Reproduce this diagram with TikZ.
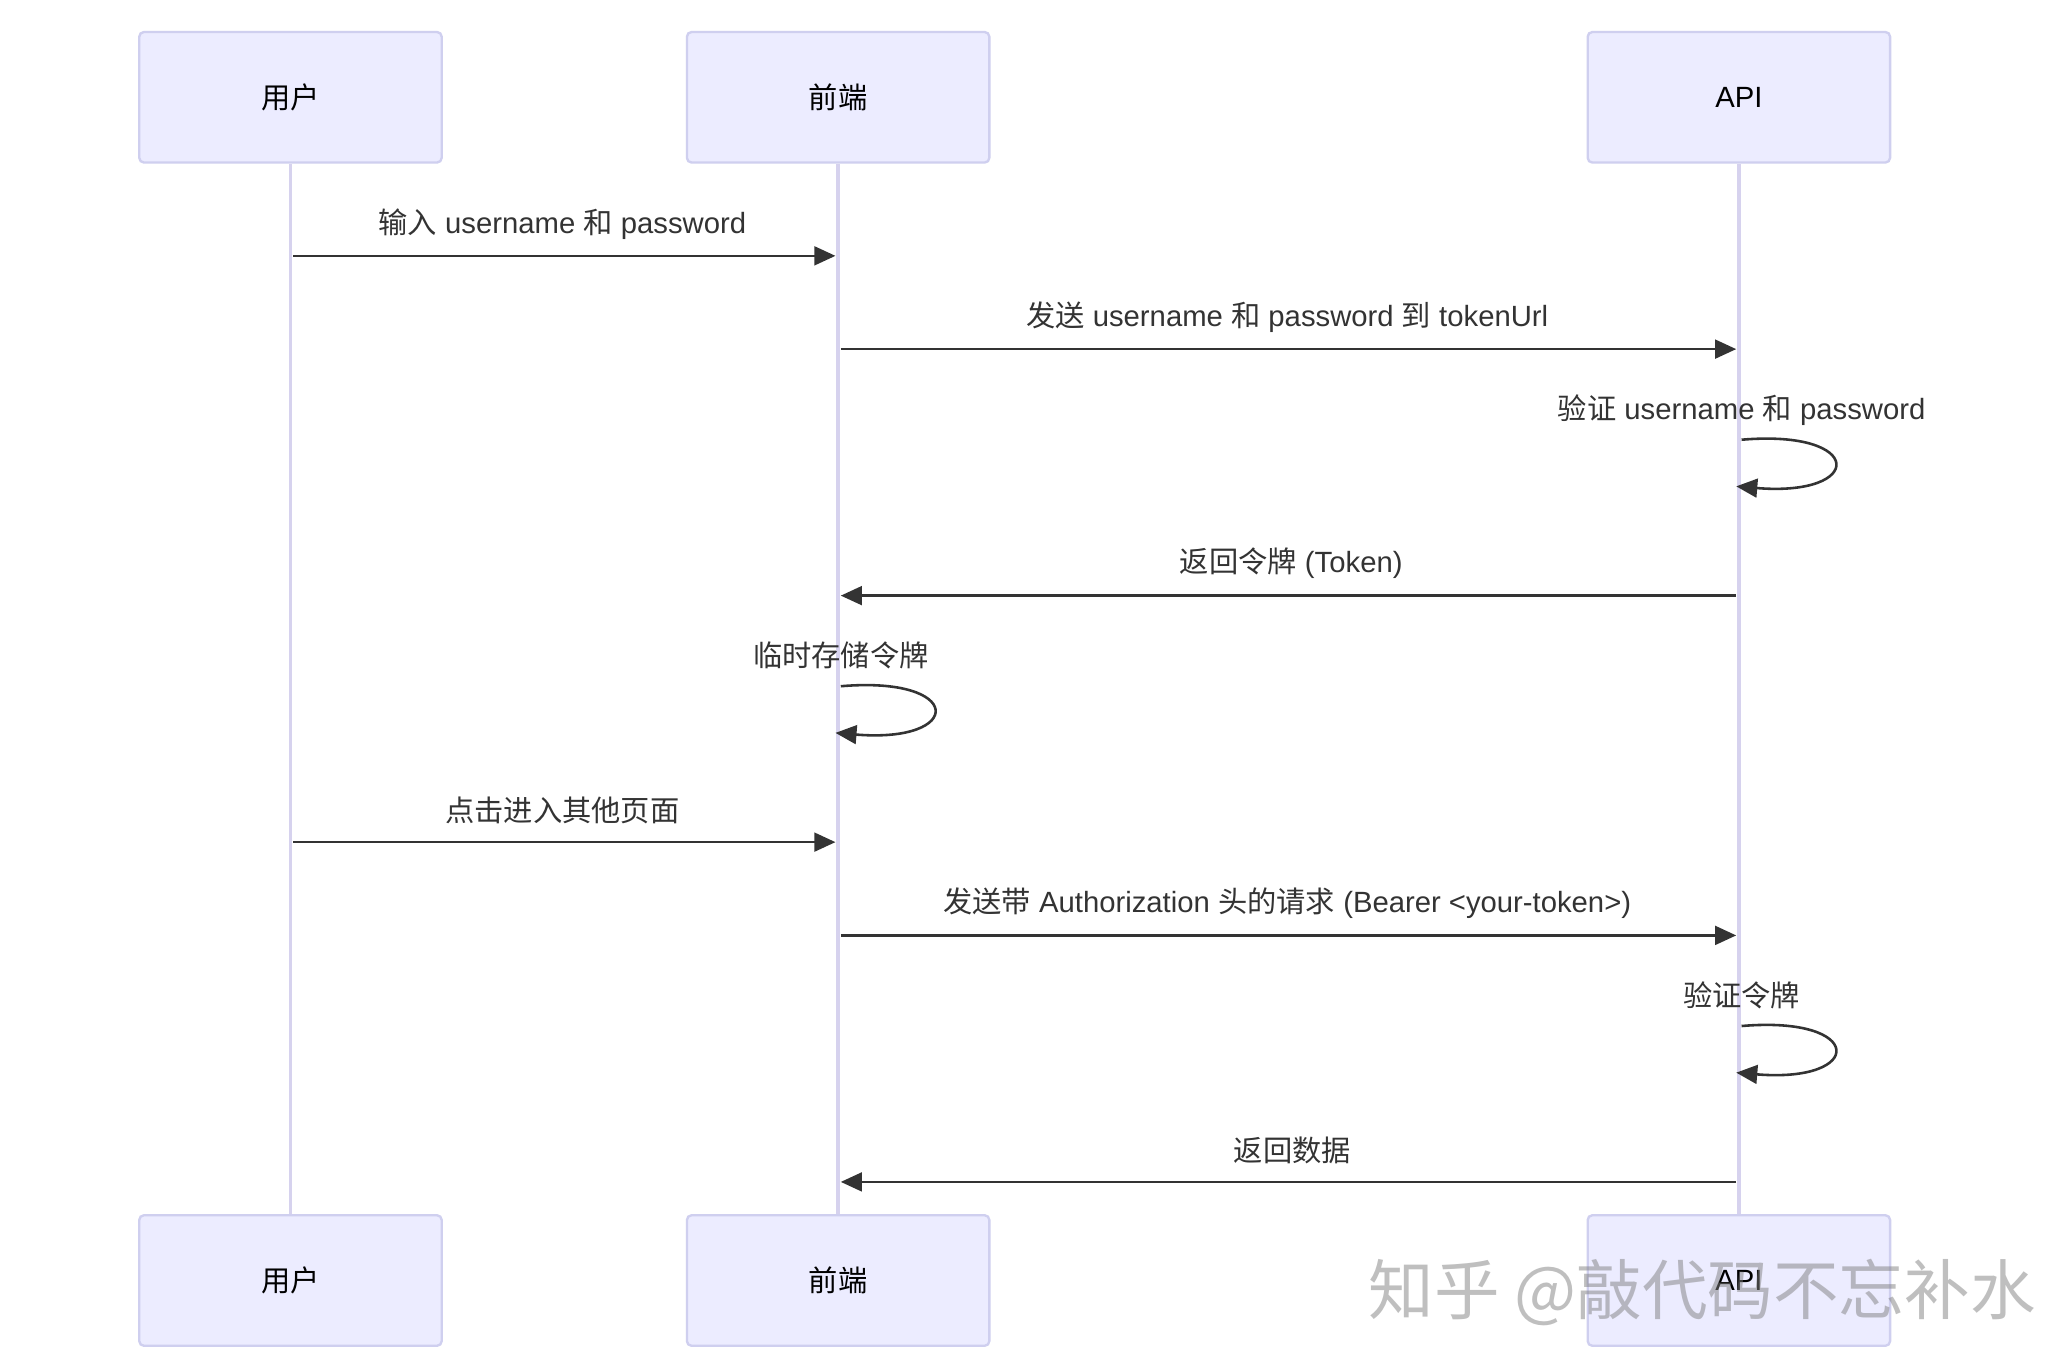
\documentclass[tikz,border=0pt]{standalone}
\usepackage{fontspec}
\setmainfont{Liberation Sans}
\newfontfamily\cjk{Noto Sans CJK SC}
\usetikzlibrary{arrows.meta}
\definecolor{boxfill}{HTML}{ECECFF}
\definecolor{boxline}{HTML}{CFCFEF}
\definecolor{lifel}{HTML}{D6D2EE}
\definecolor{msg}{HTML}{333333}
\newcommand{\zh}[1]{{\cjk #1}}
\tikzset{
 actor/.style={draw=boxline,fill=boxfill,line width=1pt,rounded corners=2pt,minimum width=4.54cm,minimum height=1.96cm,font=\fontsize{12.5}{14}\selectfont,text=black},
 life/.style={draw=lifel,line width=1.6pt},
 msgline/.style={draw=msg,line width=1.1pt,-{Triangle[length=9pt,width=8pt]}},
 lbl/.style={font=\fontsize{12.5}{14}\selectfont,text=msg,inner sep=0pt},
}
\begin{document}
\begin{tikzpicture}[x=0.02cm,y=-0.02cm]
\useasboundingbox (0,0) rectangle (1552,1022);
\fill[white] (0,0) rectangle (1552,1022);
\draw[life] (218,123) -- (218,912);
\draw[life] (629,123) -- (629,912);
\draw[life] (1305,123) -- (1305,912);
\node[actor] (u1) at (218,73) {\zh{用户}};
\node[actor] (f1) at (629,73) {\zh{前端}};
\node[actor] (a1) at (1305,73) {API};
\node[actor] (u2) at (218,961) {\zh{用户}};
\node[actor] (f2) at (629,961) {\zh{前端}};
\node[actor] (a2) at (1305,961) {API};
\coordinate (u192) at (220,192); \coordinate (f192) at (627,192);
\coordinate (f262) at (631,262); \coordinate (a262) at (1303,262);
\coordinate (a447) at (1303,447); \coordinate (f447) at (631,447);
\coordinate (u632) at (220,632); \coordinate (f632) at (627,632);
\coordinate (f702) at (631,702); \coordinate (a702) at (1303,702);
\coordinate (a887) at (1303,887); \coordinate (f887) at (631,887);
\coordinate (a330) at (1307,330); \coordinate (a365) at (1303,365);
\coordinate (f515) at (631,515); \coordinate (f550) at (627,550);
\coordinate (a770) at (1307,770); \coordinate (a805) at (1303,805);
\draw[msgline] (u192) -- (f192);
\node[lbl] (l1) at (422,168) {\zh{输入} username \zh{和} password};
\draw[msgline] (f262) -- (a262);
\node[lbl] (l2) at (966,238) {\zh{发送} username \zh{和} password \zh{到} tokenUrl};
\node[lbl] (l3) at (1307,308) {\zh{验证} username \zh{和} password};
\draw[msgline] (a330) .. controls (1400,322) and (1400,373) .. (a365);
\draw[msgline] (a447) -- (f447);
\node[lbl] (l4) at (969,423) {\zh{返回令牌} (Token)};
\node[lbl] (l5) at (631,492) {\zh{临时存储令牌}};
\draw[msgline] (f515) .. controls (724,507) and (724,558) .. (f550);
\draw[msgline] (u632) -- (f632);
\node[lbl] (l6) at (422,608) {\zh{点击进入其他页面}};
\draw[msgline] (f702) -- (a702);
\node[lbl] (l7) at (966,678) {\zh{发送带} Authorization \zh{头的请求} (Bearer <your-token>)};
\node[lbl] (l8) at (1307,747) {\zh{验证令牌}};
\draw[msgline] (a770) .. controls (1400,762) and (1400,813) .. (a805);
\draw[msgline] (a887) -- (f887);
\node[lbl] (l9) at (970,863) {\zh{返回数据}};
\node[font=\cjk\fontsize{28}{32}\selectfont,text=gray,opacity=0.5,anchor=east,inner sep=0pt] (wm) at (1528,970) {知乎 @敲代码不忘补水};
\end{tikzpicture}
\end{document}
